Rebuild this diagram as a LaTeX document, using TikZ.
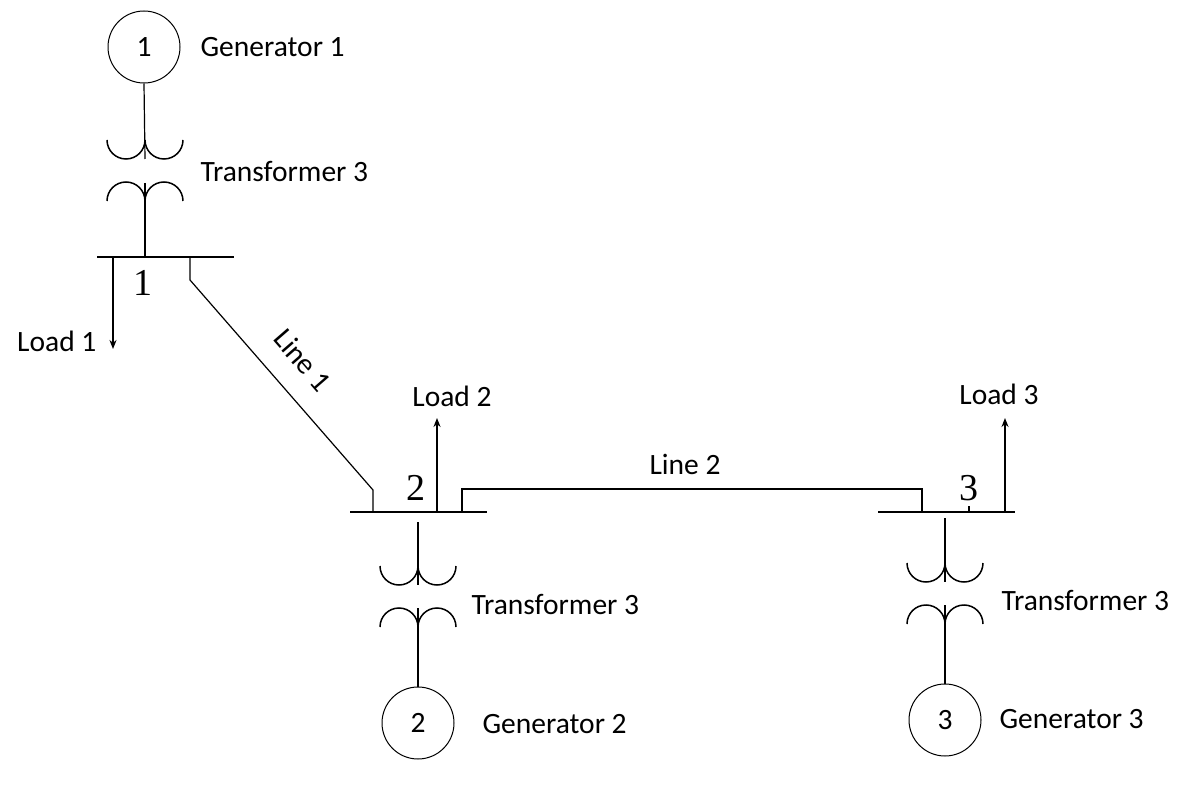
\documentclass[tikz,border=0pt]{standalone}
\usepackage{fontspec}
\setmainfont{Carlito}
\newfontfamily\busfont{Liberation Serif}
\usetikzlibrary{arrows.meta}
\begin{document}
\begin{tikzpicture}[x=1pt,y=-1pt,line width=1.2pt,
  gen/.style={circle,draw,line width=1pt,minimum size=72pt,inner sep=0pt,font=\fontsize{29.5}{32}\selectfont},
  lbl/.style={anchor=west,font=\fontsize{29.5}{32}\selectfont,inner sep=0pt},
  busn/.style={font=\busfont\fontsize{38}{40}\selectfont,inner sep=0pt},
  bus/.style={line width=2.2pt},
  load/.style={line width=2.2pt,-{Stealth[length=9pt,width=7pt]}},
  pics/xfmr/.style={code={
    \draw[line width=1.5pt] (-38,0) arc[start angle=180,end angle=0,radius=19];
    \draw[line width=1.5pt] (0,0) arc[start angle=180,end angle=0,radius=19];
    \draw[line width=1.5pt] (-38,61) arc[start angle=180,end angle=360,radius=19];
    \draw[line width=1.5pt] (0,61) arc[start angle=180,end angle=360,radius=19];
  }}]
\useasboundingbox (0,0) rectangle (1183,791);
% Bus 1
\node[gen] (g1) at (144,47) {1};
\node[lbl] at (200,47) {Generator 1};
\pic at (145,140) {xfmr};
\node[lbl] at (200,171) {Transformer 3};
\draw (g1.south) -- (145,159);
\coordinate (t1) at (145,183);
\coordinate (b1) at (145,257);
\draw (t1) -- (b1);
\draw[bus] (97,257) -- (234,257);
\node[busn] at (143,283) {1};
\coordinate (l1s) at (113,257);
\coordinate (l1e) at (113,349);
\draw[load] (l1s) -- (l1e);
\node[lbl,anchor=east] at (97,341) {Load 1};
% Line 1
\coordinate (a1) at (190,257);
\coordinate (a2) at (373,512);
\draw (a1) -- (190,280) -- (373,490) -- (a2);
\node[font=\fontsize{29.5}{32}\selectfont,rotate=-49,inner sep=0pt] at (303,360) {Line 1};
% Bus 2
\draw[bus] (350,512) -- (487,512);
\node[busn] at (416,488) {2};
\coordinate (l2s) at (437,512);
\coordinate (l2e) at (437,418);
\draw[load] (l2s) -- (l2e);
\node[lbl,anchor=center] at (452,396) {Load 2};
\pic at (418,566) {xfmr};
\node[lbl] at (471,604) {Transformer 3};
\node[gen] (g2) at (418,723) {2};
\node[lbl] at (482,724) {Generator 2};
\draw (418,522) -- (418,585);
\draw (418,608) -- (g2.north);
% Line 2
\coordinate (m1) at (462,512);
\coordinate (m2) at (922,512);
\draw (m1) -- (462,489) -- (922,489) -- (m2);
\node[lbl,anchor=center] at (685,464) {Line 2};
% Bus 3
\draw[bus] (878,512) -- (1015,512);
\draw (969,506) -- (969,512);
\node[busn] at (969,488) {3};
\coordinate (l3s) at (1005,512);
\coordinate (l3e) at (1005,418);
\draw[load] (l3s) -- (l3e);
\node[lbl,anchor=center] at (999,394) {Load 3};
\pic at (945,563) {xfmr};
\node[lbl] at (1001,600) {Transformer 3};
\node[gen] (g3) at (945,720) {3};
\node[lbl] at (999,719) {Generator 3};
\draw (945,518) -- (945,582);
\draw (945,605) -- (g3.north);
\end{tikzpicture}
\end{document}
